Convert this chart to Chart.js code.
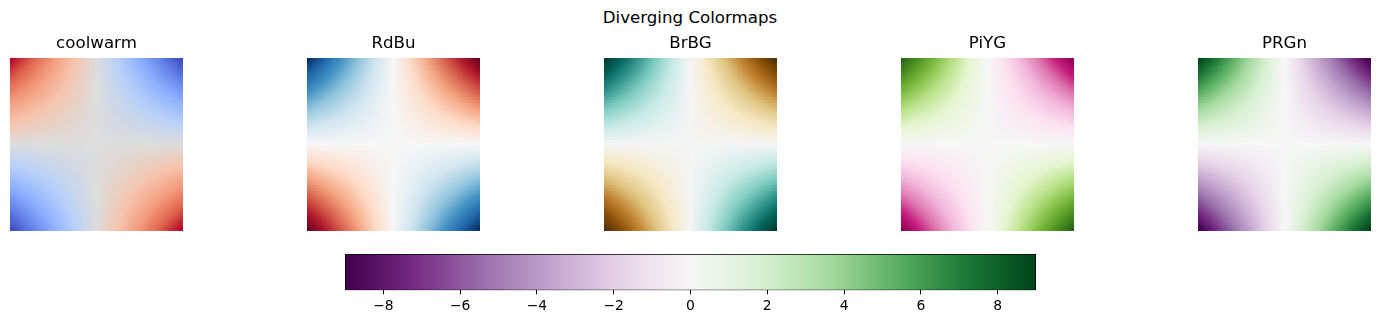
<!DOCTYPE html>
<html>
<head>
<meta charset="utf-8">
<script src="https://cdn.jsdelivr.net/npm/chart.js@4"></script>
<style>
  body { margin: 0; background: #fff; width: 1380px; height: 322px; position: relative; overflow: hidden; }
  canvas { position: absolute; }
  #suptitle { position: absolute; left: 0; width: 1380px; top: 8px; text-align: center;
              font-family: "DejaVu Sans"; font-size: 16.67px; line-height: 20px; color: #000; }
</style>
</head>
<body>
<div id="suptitle">Diverging Colormaps</div>
<canvas id="cm0"></canvas>
<canvas id="cm1"></canvas>
<canvas id="cm2"></canvas>
<canvas id="cm3"></canvas>
<canvas id="cm4"></canvas>
<canvas id="cbar"></canvas>
<script>
// grid of x (columns, left -> right) and y (rows, top -> bottom); z = x * y
var gridX = [-3, -2.9, -2.8, -2.7, -2.6, -2.5, -2.4, -2.3, -2.2, -2.1, -2, -1.9, -1.8, -1.7, -1.6,
             -1.5, -1.4, -1.3, -1.2, -1.1, -1, -0.9, -0.8, -0.7, -0.6, -0.5, -0.4, -0.3, -0.2, -0.1,
             0, 0.1, 0.2, 0.3, 0.4, 0.5, 0.6, 0.7, 0.8, 0.9, 1, 1.1, 1.2, 1.3, 1.4, 1.5,
             1.6, 1.7, 1.8, 1.9, 2, 2.1, 2.2, 2.3, 2.4, 2.5, 2.6, 2.7, 2.8, 2.9, 3];
var gridY = gridX.slice();
var zMin = -9, zMax = 9;

var panelNames = ["coolwarm", "RdBu", "BrBG", "PiYG", "PRGn"];
var panelLeft = [10, 307, 604, 901, 1198];
var cbarTicks = [-8, -6, -4, -2, 0, 2, 4, 6, 8];

// colormap stops (evenly spaced)
var cmaps = {
  coolwarm: ["#3b4cc0", "#6282ea", "#8db0fe", "#b8d0f9", "#dddddd", "#f5c4ad", "#f49a7b", "#de604d", "#b40426"],
  RdBu: ["#67001f", "#b2182b", "#d6604d", "#f4a582", "#fddbc7", "#f7f7f7", "#d1e5f0", "#92c5de", "#4393c3", "#2166ac", "#053061"],
  BrBG: ["#543005", "#8c510a", "#bf812d", "#dfc27d", "#f6e8c3", "#f5f5f5", "#c7eae5", "#80cdc1", "#35978f", "#01665e", "#003c30"],
  PiYG: ["#8e0152", "#c51b7d", "#de77ae", "#f1b6da", "#fde0ef", "#f7f7f7", "#e6f5d0", "#b8e186", "#7fbc41", "#4d9221", "#276419"],
  PRGn: ["#40004b", "#762a83", "#9970ab", "#c2a5cf", "#e7d4e8", "#f7f7f7", "#d9f0d3", "#a6dba0", "#5aae61", "#1b7837", "#00441b"]
};

function hexToRgb(h) {
  return [parseInt(h.substr(1, 2), 16), parseInt(h.substr(3, 2), 16), parseInt(h.substr(5, 2), 16)];
}

function cmapColor(name, t) {
  var stops = cmaps[name];
  t = Math.max(0, Math.min(1, t));
  var pos = t * (stops.length - 1);
  var i = Math.min(Math.floor(pos), stops.length - 2);
  var f = pos - i;
  var a = hexToRgb(stops[i]), b = hexToRgb(stops[i + 1]);
  var c = a.map(function(v, k) { return Math.round(v + (b[k] - v) * f); });
  return "rgb(" + c.join(",") + ")";
}

function create_panel(idx) {
  var name = panelNames[idx];
  var canvas = document.getElementById("cm" + idx);
  canvas.width = 173; canvas.height = 197;
  canvas.style.left = panelLeft[idx] + "px";
  canvas.style.top = "34px";

  // one dataset per row, stacked bottom -> top
  var datasets = [];
  for (var r = gridY.length - 1; r >= 0; r--) {
    datasets.push({
      data: gridX.map(function() { return 1; }),
      backgroundColor: gridX.map(function(x) {
        return cmapColor(name, (x * gridY[r] - zMin) / (zMax - zMin));
      }),
      borderWidth: 0,
      barPercentage: 1,
      categoryPercentage: 1
    });
  }

  return new Chart(canvas, {
    type: 'bar',
    data: { labels: gridX, datasets: datasets },
    options: {
      responsive: false,
      animation: false,
      events: [],
      layout: { padding: 0 },
      scales: {
        x: { display: false, stacked: true },
        y: { display: false, stacked: true, min: 0, max: gridY.length }
      },
      plugins: {
        legend: { display: false },
        tooltip: { enabled: false },
        title: {
          display: true,
          text: name,
          color: '#000',
          font: { family: 'DejaVu Sans', size: 16.67, weight: 'normal', lineHeight: 1.2 },
          padding: { top: 0, bottom: 4 }
        }
      }
    }
  });
}

function create_colorbar() {
  var canvas = document.getElementById("cbar");
  canvas.width = 691; canvas.height = 65;
  canvas.style.left = "345px";
  canvas.style.top = "254px";

  return new Chart(canvas, {
    type: 'bar',
    data: {
      labels: [''],
      datasets: [{
        data: [[zMin, zMax]],
        backgroundColor: function(ctx) {
          var chart = ctx.chart;
          if (!chart.chartArea) return '#fff';
          var xs = chart.scales.x;
          var g = chart.ctx.createLinearGradient(xs.getPixelForValue(zMin), 0, xs.getPixelForValue(zMax), 0);
          var stops = cmaps.PRGn;
          stops.forEach(function(c, i) { g.addColorStop(i / (stops.length - 1), c); });
          return g;
        },
        borderColor: '#000',
        borderWidth: 1,
        borderSkipped: false,
        barPercentage: 1,
        categoryPercentage: 1
      }]
    },
    options: {
      indexAxis: 'y',
      responsive: false,
      animation: false,
      events: [],
      layout: { padding: 0 },
      scales: {
        x: {
          type: 'linear', min: zMin, max: zMax,
          afterBuildTicks: function(axis) {
            axis.ticks = cbarTicks.map(function(v) { return { value: v }; });
          },
          grid: { drawOnChartArea: false, drawTicks: true, tickLength: 4, color: '#000' },
          border: { display: false },
          ticks: {
            color: '#000', padding: 4, maxRotation: 0, autoSkip: false,
            font: { family: 'DejaVu Sans', size: 13.9 },
            callback: function(v) { return v < 0 ? '\u2212' + (-v) : '' + v; }
          }
        },
        y: { display: false }
      },
      plugins: { legend: { display: false }, tooltip: { enabled: false } }
    }
  });
}

for (var p = 0; p < panelNames.length; p++) create_panel(p);
create_colorbar();
</script>
</body>
</html>
